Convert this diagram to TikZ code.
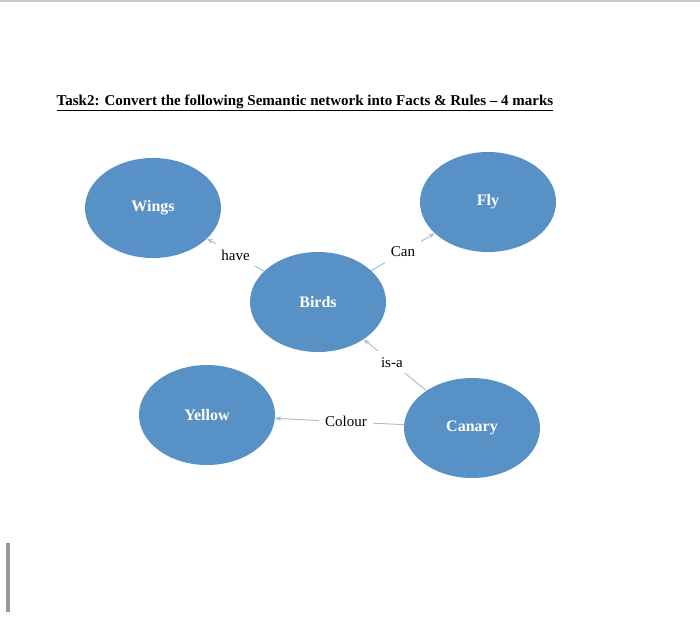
\documentclass[tikz,border=0pt]{standalone}
\usepackage{fontspec}
\setmainfont{Liberation Serif}
\usetikzlibrary{arrows.meta,shapes.geometric}
\begin{document}
\begin{tikzpicture}[x=1pt,y=-1pt,
  ell/.style={ellipse,draw=none,fill=nodeblue,minimum width=136pt,minimum height=100pt,inner sep=0pt,text=white,font=\fontsize{16}{18}\selectfont\bfseries},
  conn/.style={draw=linegray,line width=1pt,-{Stealth[length=6pt,width=5pt]}},
  lbl/.style={fill=white,inner sep=6pt,font=\fontsize{15}{17}\selectfont}]
\definecolor{nodeblue}{RGB}{88,145,198}
\definecolor{linegray}{RGB}{170,192,214}
\useasboundingbox (0,0) rectangle (700,618);
\draw[gray!40,line width=1.5pt] (0,1) -- (700,1);
\fill[gray!80] (6,543) rectangle (10,612);
\node[font=\fontsize{15}{17}\selectfont\bfseries] (title) at (305,103) {\underline{Task2: Convert the following Semantic network into Facts \& Rules -- 4 marks}};
\node[ell] (wings) at (153,208) {Wings};
\node[ell] (fly) at (488,202) {Fly};
\node[ell] (birds) at (318,302) {Birds};
\node[ell] (yellow) at (207,415) {Yellow};
\node[ell] (canary) at (472,428) {Canary};
\draw[conn] (birds) -- node[lbl,pos=0.5] (have) {have} (wings);
\draw[conn] (birds) -- node[lbl,pos=0.5] (can) {Can} (fly);
\draw[conn] (canary) -- node[lbl,pos=0.55] (isa) {is-a} (birds);
\draw[conn] (canary) -- node[lbl,pos=0.45] (colour) {Colour} (yellow);
\end{tikzpicture}
\end{document}
